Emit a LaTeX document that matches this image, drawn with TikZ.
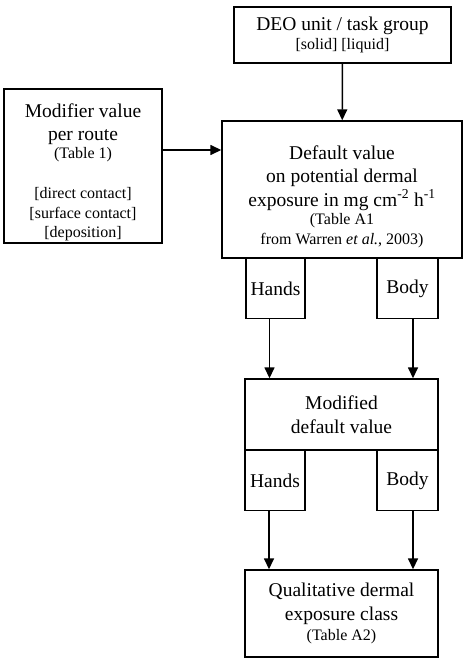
\documentclass[tikz,border=0pt]{standalone}
\usepackage{fontspec}
\setmainfont{Liberation Serif}
\usetikzlibrary{arrows.meta}
\newcommand\smallfnt{\fontsize{16}{20}\selectfont}

\begin{document}
\begin{tikzpicture}[x=1pt,y=-1pt,
  box/.style={draw,line width=1.4pt,align=center,inner sep=0pt,font=\fontsize{19.5}{23.5}\selectfont},
  arr/.style={line width=1.5pt,-{Triangle[length=11pt,width=10pt]}}]
  \useasboundingbox (0,0) rectangle (474,667);
  \node[box,minimum width=217,minimum height=56] (deo) at (342.5,35) {DEO unit / task group\\[-4.5pt] {\smallfnt [solid] [liquid]}};
  \node[box,minimum width=158,minimum height=154] (modifier) at (83,166) {\rule{0pt}{26pt}Modifier value\\ per route\\[-5.5pt] {\smallfnt (Table 1)}\\[16.5pt] {\smallfnt [direct contact]}\\[-3.5pt] {\smallfnt [surface contact]}\\[-4.5pt] {\smallfnt [deposition]}};
  \node[box,minimum width=240,minimum height=137] (default) at (342,189.5) {\rule{0pt}{28pt}Default value\\ on potential dermal\\ exposure in mg cm\textsuperscript{-2} h\textsuperscript{-1}\\[-5.5pt] {\smallfnt (Table A1}\\[-3pt] {\smallfnt from Warren \textit{et al.}, 2003)}};
  \node[box,minimum width=59,minimum height=60,anchor=north] (dhands) at (275.5,258) {Hands};
  \node[box,minimum width=61,minimum height=60,anchor=north] (dbody) at (407.5,258) {Body};
  \node[box,minimum width=193,minimum height=71] (modified) at (341.5,414.5) {Modified\\ default value};
  \node[box,minimum width=60,minimum height=60,anchor=north] (mhands) at (275,450) {Hands};
  \node[box,minimum width=61,minimum height=60,anchor=north] (mbody) at (407.5,450) {Body};
  \node[box,minimum width=193,minimum height=87] (qual) at (341.5,613.5) {Qualitative dermal\\ exposure class\\[-3.5pt] {\smallfnt (Table A2)}};
  \draw[arr] (deo) -- (default);
  \draw[arr] (modifier.east |- 0,150) -- (default.west |- 0,150);
  \draw[arr] ([xshift=-6]dhands.south) -- ([xshift=-6]dhands.south |- modified.north);
  \draw[arr] ([xshift=5.5]dbody.south) -- ([xshift=5.5]dbody.south |- modified.north);
  \draw[arr] ([xshift=-6]mhands.south) -- ([xshift=-6]mhands.south |- qual.north);
  \draw[arr] ([xshift=5.5]mbody.south) -- ([xshift=5.5]mbody.south |- qual.north);
\end{tikzpicture}
\end{document}
